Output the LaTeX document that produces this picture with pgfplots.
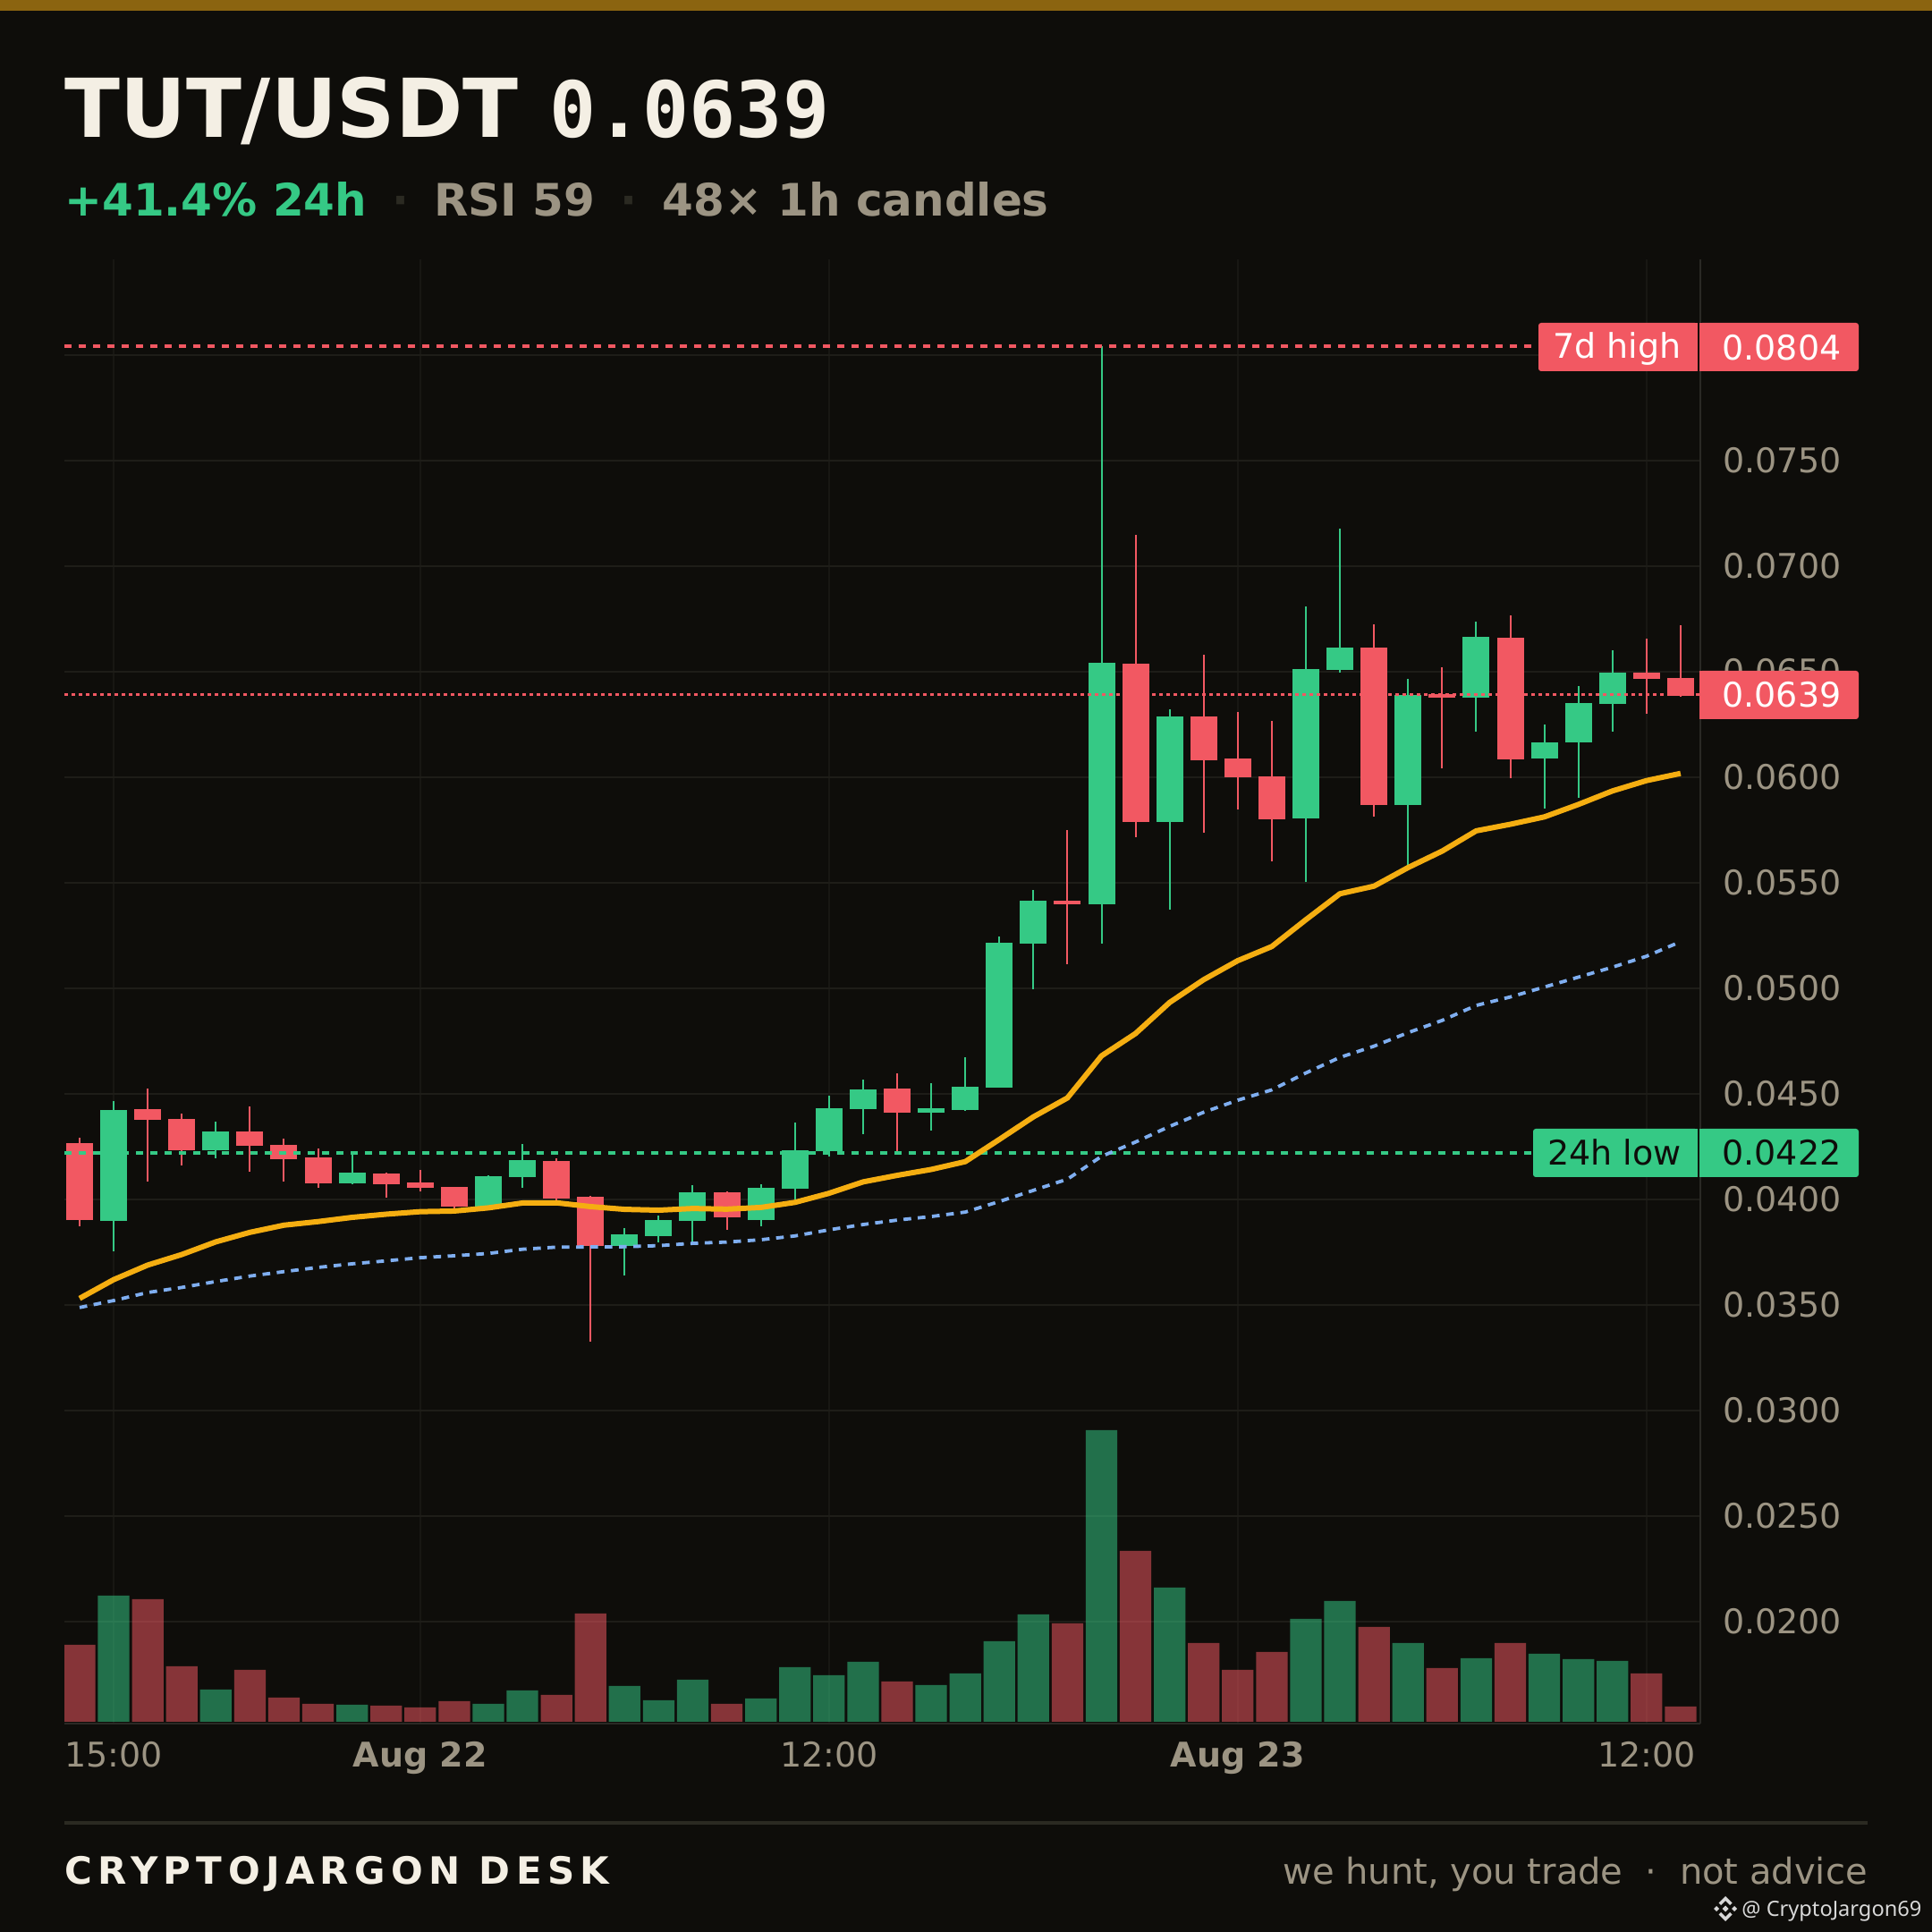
\documentclass[border=0pt]{standalone}
\usepackage{pgfplots}
\usepackage{pgfplotstable}
\usepackage{fontspec}
\pgfplotsset{compat=1.18}
\setmainfont{DejaVu Sans}
\newfontfamily\monob{DejaVu Sans Mono}[BoldFont={DejaVu Sans Mono Bold}]
\newfontfamily\wmfont{Noto Sans}
\newfontfamily\spaced{DejaVu Sans}[LetterSpace=15.2,BoldFont={DejaVu Sans Bold}]
\definecolor{bg}{HTML}{0E0D0A}
\definecolor{topbar}{HTML}{8B6410}
\definecolor{cream}{HTML}{F4EFE4}
\definecolor{upc}{HTML}{35C985}
\definecolor{downc}{HTML}{F25862}
\definecolor{muted}{HTML}{9C9483}
\definecolor{dimdot}{HTML}{2B2A22}
\definecolor{hgrid}{HTML}{1E1D18}
\definecolor{vgrid}{HTML}{181713}
\definecolor{spinec}{HTML}{2A2925}
\definecolor{ema}{HTML}{F5AE11}
\definecolor{emb}{HTML}{7FAEF0}
\definecolor{wm}{HTML}{D8D8D8}

\pgfplotstableread{
i lo bot top hi
1 .03753 .03897 .04422 .04465
4 .04194 .04232 .04321 .04367
8 .04071 .04075 .04126 .04215
12 .03961 .03965 .04109 .04113
13 .04054 .04105 .04185 .04261
16 .03639 .03778 .03833 .03863
17 .03795 .03825 .03901 .03922
18 .03795 .03897 .04033 .04067
20 .03872 .03901 .04054 .04071
21 .03999 .04050 .04232 .04363
22 .04202 .04228 .04431 .04490
23 .04308 .04427 .04520 .04567
25 .04325 .04410 .04431 .04550
26 .04418 .04422 .04533 .04672
27 .04528 .04528 .05215 .05244
28 .04995 .05211 .05414 .05467
30 .05211 .05397 .06541 .08040
32 .05372 .05787 .06287 .06321
36 .05503 .05804 .06511 .06808
37 .06495 .06507 .06613 .07177
39 .05571 .05867 .06389 .06465
41 .06215 .06376 .06664 .06736
43 .05850 .06088 .06164 .06249
44 .05901 .06164 .06350 .06431
45 .06215 .06346 .06495 .06600
}\upT
\pgfplotstableread{
i lo bot top hi
0 .03872 .03901 .04266 .04291
2 .04083 .04376 .04427 .04524
3 .04160 .04232 .04380 .04406
5 .04130 .04253 .04321 .04439
6 .04083 .04189 .04257 .04287
7 .04054 .04075 .04198 .04240
9 .04007 .04071 .04122 .04126
10 .04037 .04054 .04079 .04139
11 .03952 .03965 .04058 .04058
14 .03992 .04003 .04181 .04194
15 .03325 .03778 .04011 .04016
19 .03855 .03914 .04033 .04035
24 .04228 .04410 .04524 .04596
29 .05113 .05397 .05414 .05747
31 .05715 .05787 .06537 .07147
33 .05736 .06079 .06287 .06579
34 .05846 .05999 .06088 .06308
35 .05600 .05800 .06003 .06266
38 .05812 .05867 .06613 .06723
40 .06041 .06376 .06393 .06520
42 .05994 .06084 .06660 .06766
46 .06300 .06465 .06495 .06656
47 .06380 .06385 .06469 .06719
}\downT
\pgfplotstableread{
i v
1 141
4 36
8 19
12 20
13 35
16 40
17 24
18 47
20 26
21 61
22 52
23 67
25 41
26 54
27 90
28 120
30 326
32 150
36 115
37 135
39 88
41 71
43 76
44 70
45 68
}\upV
\pgfplotstableread{
i v
0 86
2 137
3 62
5 58
6 27
7 20
9 18
10 16
11 23
14 30
15 121
19 20
24 45
29 110
31 191
33 88
34 58
35 78
38 106
40 60
42 88
46 54
47 17
}\downV

\begin{document}
\begin{tikzpicture}
\useasboundingbox (0,0) rectangle (1080pt,1080pt);
\begin{scope}[x=0.5pt,y=-0.5pt,yshift=1080pt]
\fill[bg] (0,0) rectangle (2160,2160);
\fill[topbar] (0,0) rectangle (2160,12);
\end{scope}

\begin{axis}[
  at={(36pt,116.5pt)},anchor=south west,
  scale only axis,width=914.5pt,height=818.5pt,
  xmin=-0.446,xmax=47.58,ymin=0.01516,ymax=0.08452,
  axis x line=bottom,axis y line=right,
  axis line style={spinec,line width=1.1pt,-},
  major tick length=0pt,
  scaled y ticks=false,
  ytick={0.02,0.025,0.03,0.035,0.04,0.045,0.05,0.055,0.06,0.065,0.07,0.075,0.08},
  yticklabels={0.0200,0.0250,0.0300,0.0350,0.0400,0.0450,0.0500,0.0550,0.0600,0.0650,0.0700,0.0750,0.0800},
  xtick={1,10,22,34,46},
  xticklabels={15:00,\textbf{Aug 22},12:00,\textbf{Aug 23},12:00},
  tick label style={font=\fontsize{19}{19}\selectfont,text=muted},
  yticklabel style={anchor=west,inner sep=0pt,xshift=12.4pt},
  xticklabel style={anchor=base,inner sep=0pt,yshift=-24.5pt},
  xmajorgrids,ymajorgrids,
  x grid style={draw=vgrid,line width=1pt},
  y grid style={draw=hgrid,line width=1pt},
  clip=true,
]
\addplot[draw=none,mark=none,forget plot,error bars/.cd,y dir=plus,y explicit,error mark=none,error bar style={upc,line width=1pt}]
  table[x=i,y=lo,y error expr=\thisrow{hi}-\thisrow{lo}]{\upT};
\addplot[draw=none,mark=none,forget plot,error bars/.cd,y dir=plus,y explicit,error mark=none,error bar style={downc,line width=1pt}]
  table[x=i,y=lo,y error expr=\thisrow{hi}-\thisrow{lo}]{\downT};
\addplot[draw=none,mark=none,forget plot,error bars/.cd,y dir=plus,y explicit,error mark=none,error bar style={upc,line width=15pt}]
  table[x=i,y=bot,y error expr=\thisrow{top}-\thisrow{bot}]{\upT};
\addplot[draw=none,mark=none,forget plot,error bars/.cd,y dir=plus,y explicit,error mark=none,error bar style={downc,line width=15pt}]
  table[x=i,y=bot,y error expr=\thisrow{top}-\thisrow{bot}]{\downT};
% levels
\addplot[downc,line width=1.9pt,dash pattern=on 4pt off 4pt,forget plot] coordinates {(-0.446,0.0804)(43.2,0.0804)};
\addplot[upc,line width=1.9pt,dash pattern=on 4pt off 4pt,forget plot] coordinates {(-0.446,0.0422)(43.2,0.0422)};
\addplot[downc,line width=1.2pt,dash pattern=on 2pt off 2pt,forget plot] coordinates {(-0.446,0.0639)(47.58,0.0639)};
% EMAs
\addplot[emb,line width=1.9pt,dash pattern=on 4.3pt off 3.7pt,forget plot] coordinates {
(0,.03487)(1,.0352)(2,.03558)(3,.03582)(4,.0361)(5,.03636)(6,.03657)(7,.03677)(8,.03694)(9,.03708)(10,.03723)(11,.03732)(12,.03743)(13,.03763)(14,.03773)(15,.03774)(16,.03775)(17,.0378)(18,.03791)(19,.03797)(20,.03808)(21,.03826)(22,.03855)(23,.0388)(24,.03901)(25,.03918)(26,.03939)(27,.03989)(28,.04042)(29,.04095)(30,.04203)(31,.04271)(32,.04345)(33,.04412)(34,.04469)(35,.04518)(36,.04598)(37,.04672)(38,.04725)(39,.04789)(40,.04847)(41,.04918)(42,.04958)(43,.05005)(44,.05052)(45,.05099)(46,.05151)(47,.05220)};
\addplot[ema,line width=3pt,line join=round,forget plot] coordinates {
(0,.0353)(1,.03619)(2,.03688)(3,.03738)(4,.03798)(5,.03843)(6,.03877)(7,.03894)(8,.03914)(9,.03929)(10,.03941)(11,.03944)(12,.03959)(13,.03982)(14,.03983)(15,.03965)(16,.03952)(17,.03948)(18,.03956)(19,.03953)(20,.03961)(21,.03985)(22,.04028)(23,.04082)(24,.04113)(25,.04141)(26,.04178)(27,.04283)(28,.0439)(29,.0448)(30,.04679)(31,.04785)(32,.04932)(33,.0504)(34,.0513)(35,.05197)(36,.05324)(37,.05447)(38,.05483)(39,.05571)(40,.05649)(41,.05745)(42,.05776)(43,.05811)(44,.0587)(45,.05934)(46,.05983)(47,.06017)};
\end{axis}

% volume, drawn in its own axis, px units of height
\begin{axis}[
  at={(36pt,116.5pt)},anchor=south west,
  scale only axis,width=914.5pt,height=818.5pt,
  xmin=-0.446,xmax=47.58,ymin=-2,ymax=1635,
  hide axis,
  ybar,bar width=17.6pt,bar shift=0pt,
]
\addplot[fill=upc,draw=none,fill opacity=.53] table[x=i,y=v]{\upV};
\addplot[fill=downc,draw=none,fill opacity=.53] table[x=i,y=v]{\downV};
\end{axis}

\begin{scope}[x=0.5pt,y=-0.5pt,yshift=1080pt]
% tags
\fill[downc,rounded corners=1.5pt] (1720,361) -- (1720,415) -- (1898,415) -- (1898,361) -- cycle;
\fill[downc,rounded corners=1.5pt] (1900,361) -- (1900,415) -- (2078,415) -- (2078,361) -- cycle;
\fill[downc,rounded corners=1.5pt] (1900,750) -- (1900,804) -- (2078,804) -- (2078,750) -- cycle;
\fill[upc,rounded corners=1.5pt] (1714,1262) -- (1714,1316) -- (1898,1316) -- (1898,1262) -- cycle;
\fill[upc,rounded corners=1.5pt] (1900,1262) -- (1900,1316) -- (2078,1316) -- (2078,1262) -- cycle;
\fill[bg] (1898,361) rectangle (1900,415);
\fill[bg] (1898,1262) rectangle (1900,1316);
\fill[downc] (1900,361) rectangle (1906,415);
\fill[downc] (1900,750) rectangle (1906,804);
\fill[upc] (1900,1262) rectangle (1906,1316);
\fill[downc] (1892,361) rectangle (1898,415);
\fill[upc] (1892,1262) rectangle (1898,1316);
\tikzset{tag/.style={font=\fontsize{19}{19}\selectfont,inner sep=0pt,anchor=base west}}
\node[tag,text=white,anchor=base east] at (1880,401) {7d high};
\node[tag,text=white] at (1925,403) {0.0804};
\node[tag,text=white] at (1925,791) {0.0639};
\node[tag,text=bg,anchor=base east] at (1880,1303) {24h low};
\node[tag,text=bg] at (1925,1303) {0.0422};
% title
\node[anchor=base west,inner sep=0pt,text=cream,font=\fontsize{45.4}{46}\selectfont\bfseries] at (72,154) {TUT/USDT};
\node[anchor=base west,inner sep=0pt,text=cream,font=\fontsize{43.3}{46}\selectfont\monob\bfseries] at (614,154) {0.0639};
\node[anchor=base west,inner sep=0pt,text=upc,font=\fontsize{25}{25}\selectfont\bfseries] at (72,242) {+41.4\% 24h};
\node[anchor=base,inner sep=0pt,text=dimdot,font=\fontsize{25}{25}\selectfont\bfseries] at (448,242) {·};
\node[anchor=base west,inner sep=0pt,text=muted,font=\fontsize{25}{25}\selectfont\bfseries] at (485,242) {RSI 59};
\node[anchor=base,inner sep=0pt,text=dimdot,font=\fontsize{25}{25}\selectfont\bfseries] at (703,242) {·};
\node[anchor=base west,inner sep=0pt,text=muted,font=\fontsize{25}{25}\selectfont\bfseries] at (740,242) {48× 1h candles};
% footer
\fill[dimdot] (72,2036) rectangle (2088,2040);
\node[anchor=base west,inner sep=0pt,text=cream,font=\fontsize{21}{21}\selectfont\spaced\bfseries] at (72,2106) {CRYPTOJARGON DESK};
\node[anchor=base east,inner sep=0pt,text=muted,font=\fontsize{20}{20}\selectfont] at (2088,2106) {we hunt, you trade \ · \ not advice};
% watermark
\node[anchor=base west,inner sep=0pt,text=wm,font=\fontsize{11.8}{12}\wmfont] at (1947,2142) {@ CryptoJargon69};
\begin{scope}[shift={(1929,2134)}]
\fill[wm] (0,-3.5) -- (3.5,0) -- (0,3.5) -- (-3.5,0) -- cycle;
\fill[wm] (-13,0) -- (-10,-3) -- (-7,0) -- (-10,3) -- cycle;
\fill[wm] (13,0) -- (10,-3) -- (7,0) -- (10,3) -- cycle;
\fill[wm] (0,-14) -- (7.5,-6.5) -- (5,-4) -- (0,-9) -- (-5,-4) -- (-7.5,-6.5) -- cycle;
\fill[wm] (0,14) -- (7.5,6.5) -- (5,4) -- (0,9) -- (-5,4) -- (-7.5,6.5) -- cycle;
\end{scope}
\end{scope}
\end{tikzpicture}
\end{document}
